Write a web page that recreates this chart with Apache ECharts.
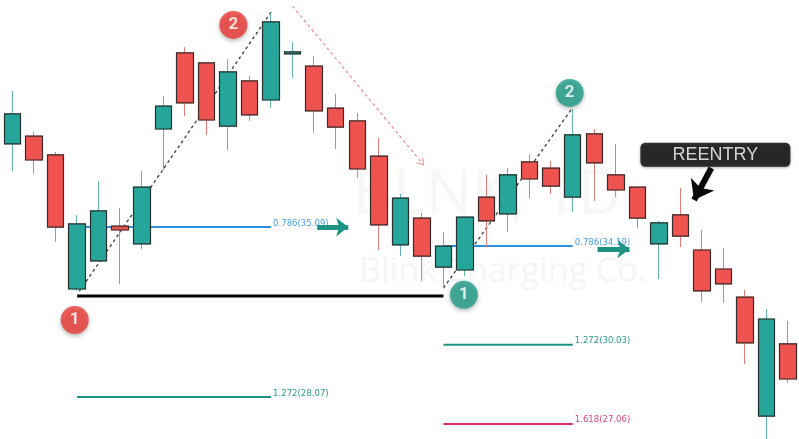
<!DOCTYPE html>
<html><head><meta charset="utf-8">
<script src="https://cdn.jsdelivr.net/npm/echarts@6/dist/echarts.min.js"></script>
<style>html,body{margin:0;padding:0;background:#fff}#c{width:799px;height:439px}</style>
</head><body><div id="c"></div>
<script>
// ---- data ----
const categories = ['D1','D2','D3','D4','D5','D6','D7','D8','D9','D10','D11','D12','D13','D14','D15','D16','D17','D18','D19','D20','D21','D22','D23','D24','D25','D26','D27','D28','D29','D30','D31','D32','D33','D34','D35','D36','D37'];
const opens  = [38.50,38.82,38.05,32.55,33.70,35.13,34.40,39.11,42.23,41.82,39.23,41.08,40.30,42.19,41.69,39.97,39.44,38.00,34.36,35.46,33.45,33.33,36.32,35.63,37.76,37.51,36.32,38.91,37.23,36.73,34.40,35.59,34.15,33.37,32.22,27.34,30.30];
const closes = [39.73,37.84,35.09,35.22,35.75,34.97,36.73,40.05,40.18,39.48,41.45,39.69,43.50,42.27,39.85,39.19,37.47,35.18,36.28,33.90,34.31,35.50,35.34,37.23,37.06,36.77,38.87,37.72,36.61,35.46,35.26,34.72,32.47,32.76,30.34,31.32,28.86];
const lows   = [37.39,37.27,34.48,32.47,33.70,32.76,34.19,37.43,39.64,38.87,38.25,39.44,39.97,41.20,38.95,38.29,37.10,34.15,33.90,32.88,32.59,33.08,34.27,34.89,36.28,36.45,35.71,36.16,36.32,35.05,32.96,34.27,32.02,31.98,29.48,26.20,28.70];
const highs  = [40.67,38.99,38.17,35.59,36.98,35.87,37.39,40.46,42.47,41.82,41.98,41.28,43.87,42.68,42.10,40.55,39.77,38.74,36.45,35.67,34.89,35.50,37.23,37.51,38.05,37.80,39.93,39.11,38.50,36.73,35.34,36.69,34.97,34.23,32.51,31.73,31.24];

// Fibonacci extension levels (start/end bar index, price position, label)
const fibLabels = ['0.786(35.09)','1.272(28.07)','0.786(34.19)','1.272(30.03)','1.618(27.06)'];
const fibKinds  = ['r786','r1272','r786','r1272','r1618'];
const fibStart  = [3,3,20,20,20];
const fibEnd    = [12,12,26,26,26];
const fibPrice  = [35.09,28.12,34.31,30.26,27.02];

// support line
const supportStart = 3, supportEnd = 20, supportPrice = 32.26;

// swing legs (1 -> 2)
const legFromX = [3.1, 20.0], legFromY = [32.45, 32.59];
const legToX   = [12.0, 25.95], legToY = [43.90, 39.93];

// downtrend projection
const downFrom = [13, 44.15], downTo = [19, 37.72];

// swing point markers
const markerX = [2.89, 10.25, 20.95, 25.86];
const markerY = [31.28, 43.38, 32.31, 40.59];
const markerText = ['1','2','1','2'];
const markerGroup = ['first','first','second','second'];

// entry arrows
const entryFromX = [14.14, 27.15], entryToX = [15.58, 28.63], entryY = [35.09, 34.19];

// reentry callout
const reentryText = 'REENTRY';
const reentryPos = [32.62, 38.05];
const reentryArrowFrom = [32.43, 37.51], reentryArrowTo = [31.63, 36.20];

// watermark
const watermarkSymbol = 'BLNK, 1D';
const watermarkName = 'Blink Charging Co.';

// ---- styling ----
const UP = '#26a69a', DOWN = '#ef5350';
const UP_WICK = '#62b5aa', DOWN_WICK = '#e57b78';
const fibColor = {r786:'#2e8fde', r1272:'#1f9383', r1618:'#d8306a'};
const fibLabelColor = {r786:'#4aa0e6', r1272:'#2a9a8a', r1618:'#d9487c'};
const markerColor = {first:'#ee3b36', second:'#1f9e88'};

const wickData = categories.map((c,i)=>[opens[i],closes[i],lows[i],highs[i]]);
const bodyData = categories.map((c,i)=>[opens[i],closes[i],Math.min(opens[i],closes[i]),Math.max(opens[i],closes[i])]);

const series = [];
// fib lines
fibLabels.forEach((lab,k)=>{
  series.push({
    type:'line', xAxisIndex:1, yAxisIndex:0, z:1, silent:true, symbol:'none',
    data:[[fibStart[k],fibPrice[k]],[fibEnd[k],fibPrice[k]]],
    lineStyle:{color:fibColor[fibKinds[k]], width:2},
    endLabel:{show:true, formatter:lab, color:fibLabelColor[fibKinds[k]], fontSize:9.5,
      fontFamily:'"DejaVu Sans Condensed","Liberation Sans Narrow",Roboto,sans-serif', distance:2, offset:[0,-4]}
  });
});
// support line
series.push({type:'line', xAxisIndex:1, z:1, silent:true, symbol:'none',
  data:[[supportStart,supportPrice],[supportEnd,supportPrice]], lineStyle:{color:'#000', width:3}});
// swing legs
legFromX.forEach((x,k)=>{
  series.push({type:'line', xAxisIndex:1, z:1, silent:true, symbol:'none',
    data:[[legFromX[k],legFromY[k]],[legToX[k],legToY[k]]],
    lineStyle:{color:'#3a3a3a', width:1.3, type:[3,3]}});
});
// candles: wicks then bodies
series.push({type:'candlestick', xAxisIndex:0, z:2, barWidth:17, data:wickData,
  itemStyle:{color:UP, color0:DOWN, borderColor:UP_WICK, borderColor0:DOWN_WICK, borderWidth:1}});
series.push({type:'candlestick', xAxisIndex:0, z:3, barWidth:17, data:bodyData,
  itemStyle:{color:UP, color0:DOWN, borderColor:'#24302e', borderColor0:'#3a2a2a', borderWidth:1.2}});
// annotations via markLine
series.push({type:'line', xAxisIndex:1, z:4, silent:true, symbol:'none', data:[],
  markLine:{silent:true, animation:false, label:{show:false},
    data:[
      [{coord:downFrom, symbol:'none', lineStyle:{color:'#e8908f', width:1.2, type:[3,3]}},
       {coord:downTo, symbol:'path://M0,10 L5,0 L10,10 L8.6,10 L5,2.8 L1.4,10 Z', symbolSize:[9,7]}],
      ...entryFromX.map((x,k)=>[
        {coord:[entryFromX[k],entryY[k]], symbol:'none', lineStyle:{color:'#1f9383', width:5, type:'solid'}},
        {coord:[entryToX[k],entryY[k]], symbol:'arrow', symbolSize:[14,12]}]),
      [{coord:reentryArrowFrom, symbol:'none', lineStyle:{color:'#0a0a0a', width:6, type:'solid'}},
       {coord:reentryArrowTo, symbol:'arrow', symbolSize:[20,18]}]
    ]}});
// swing markers
series.push({type:'scatter', xAxisIndex:1, z:5, silent:true, symbolSize:28,
  data:markerX.map((x,k)=>({value:[x,markerY[k]], itemStyle:{color:markerColor[markerGroup[k]]}, label:{formatter:markerText[k]}})),
  itemStyle:{shadowBlur:4, shadowColor:'rgba(0,0,0,0.35)', shadowOffsetY:2},
  label:{show:true, position:'inside', color:'#fff', fontSize:17, fontWeight:'bold', fontFamily:'Roboto,"Liberation Sans",sans-serif'}});
// reentry callout
series.push({type:'scatter', xAxisIndex:1, z:6, silent:true, symbolSize:1, itemStyle:{color:'rgba(0,0,0,0)'},
  data:[{value:reentryPos}],
  label:{show:true, position:'inside', formatter:reentryText, color:'#fff', fontSize:18,
    fontFamily:'"Liberation Sans",Arial,sans-serif', backgroundColor:'#050505', borderRadius:5,
    width:150, height:24, lineHeight:24, align:'center', verticalAlign:'middle',
    shadowBlur:3, shadowColor:'rgba(0,0,0,0.4)', shadowOffsetY:1}});

const chart = echarts.init(document.getElementById('c'), null, {renderer:'canvas'});
chart.setOption({
  animation:false,
  backgroundColor:'#fff',
  title:[
    {text:watermarkSymbol, left:348, top:160, textStyle:{color:'#f7f7f7', fontSize:62, fontWeight:'normal', fontFamily:'"Open Sans",sans-serif'}, z:0},
    {text:watermarkName, left:354, top:250, textStyle:{color:'#f5f5f5', fontSize:34, fontWeight:'normal', fontFamily:'"Open Sans",sans-serif'}, z:0}
  ],
  grid:{left:1.7, top:0, width:799.2, height:439},
  xAxis:[
    {type:'category', data:categories, show:false, boundaryGap:true},
    {type:'value', min:-0.5, max:36.5, show:false}
  ],
  yAxis:[{type:'value', min:26.4, max:44.4, show:false, splitLine:{show:false}}],
  series:series
});
</script></body></html>
